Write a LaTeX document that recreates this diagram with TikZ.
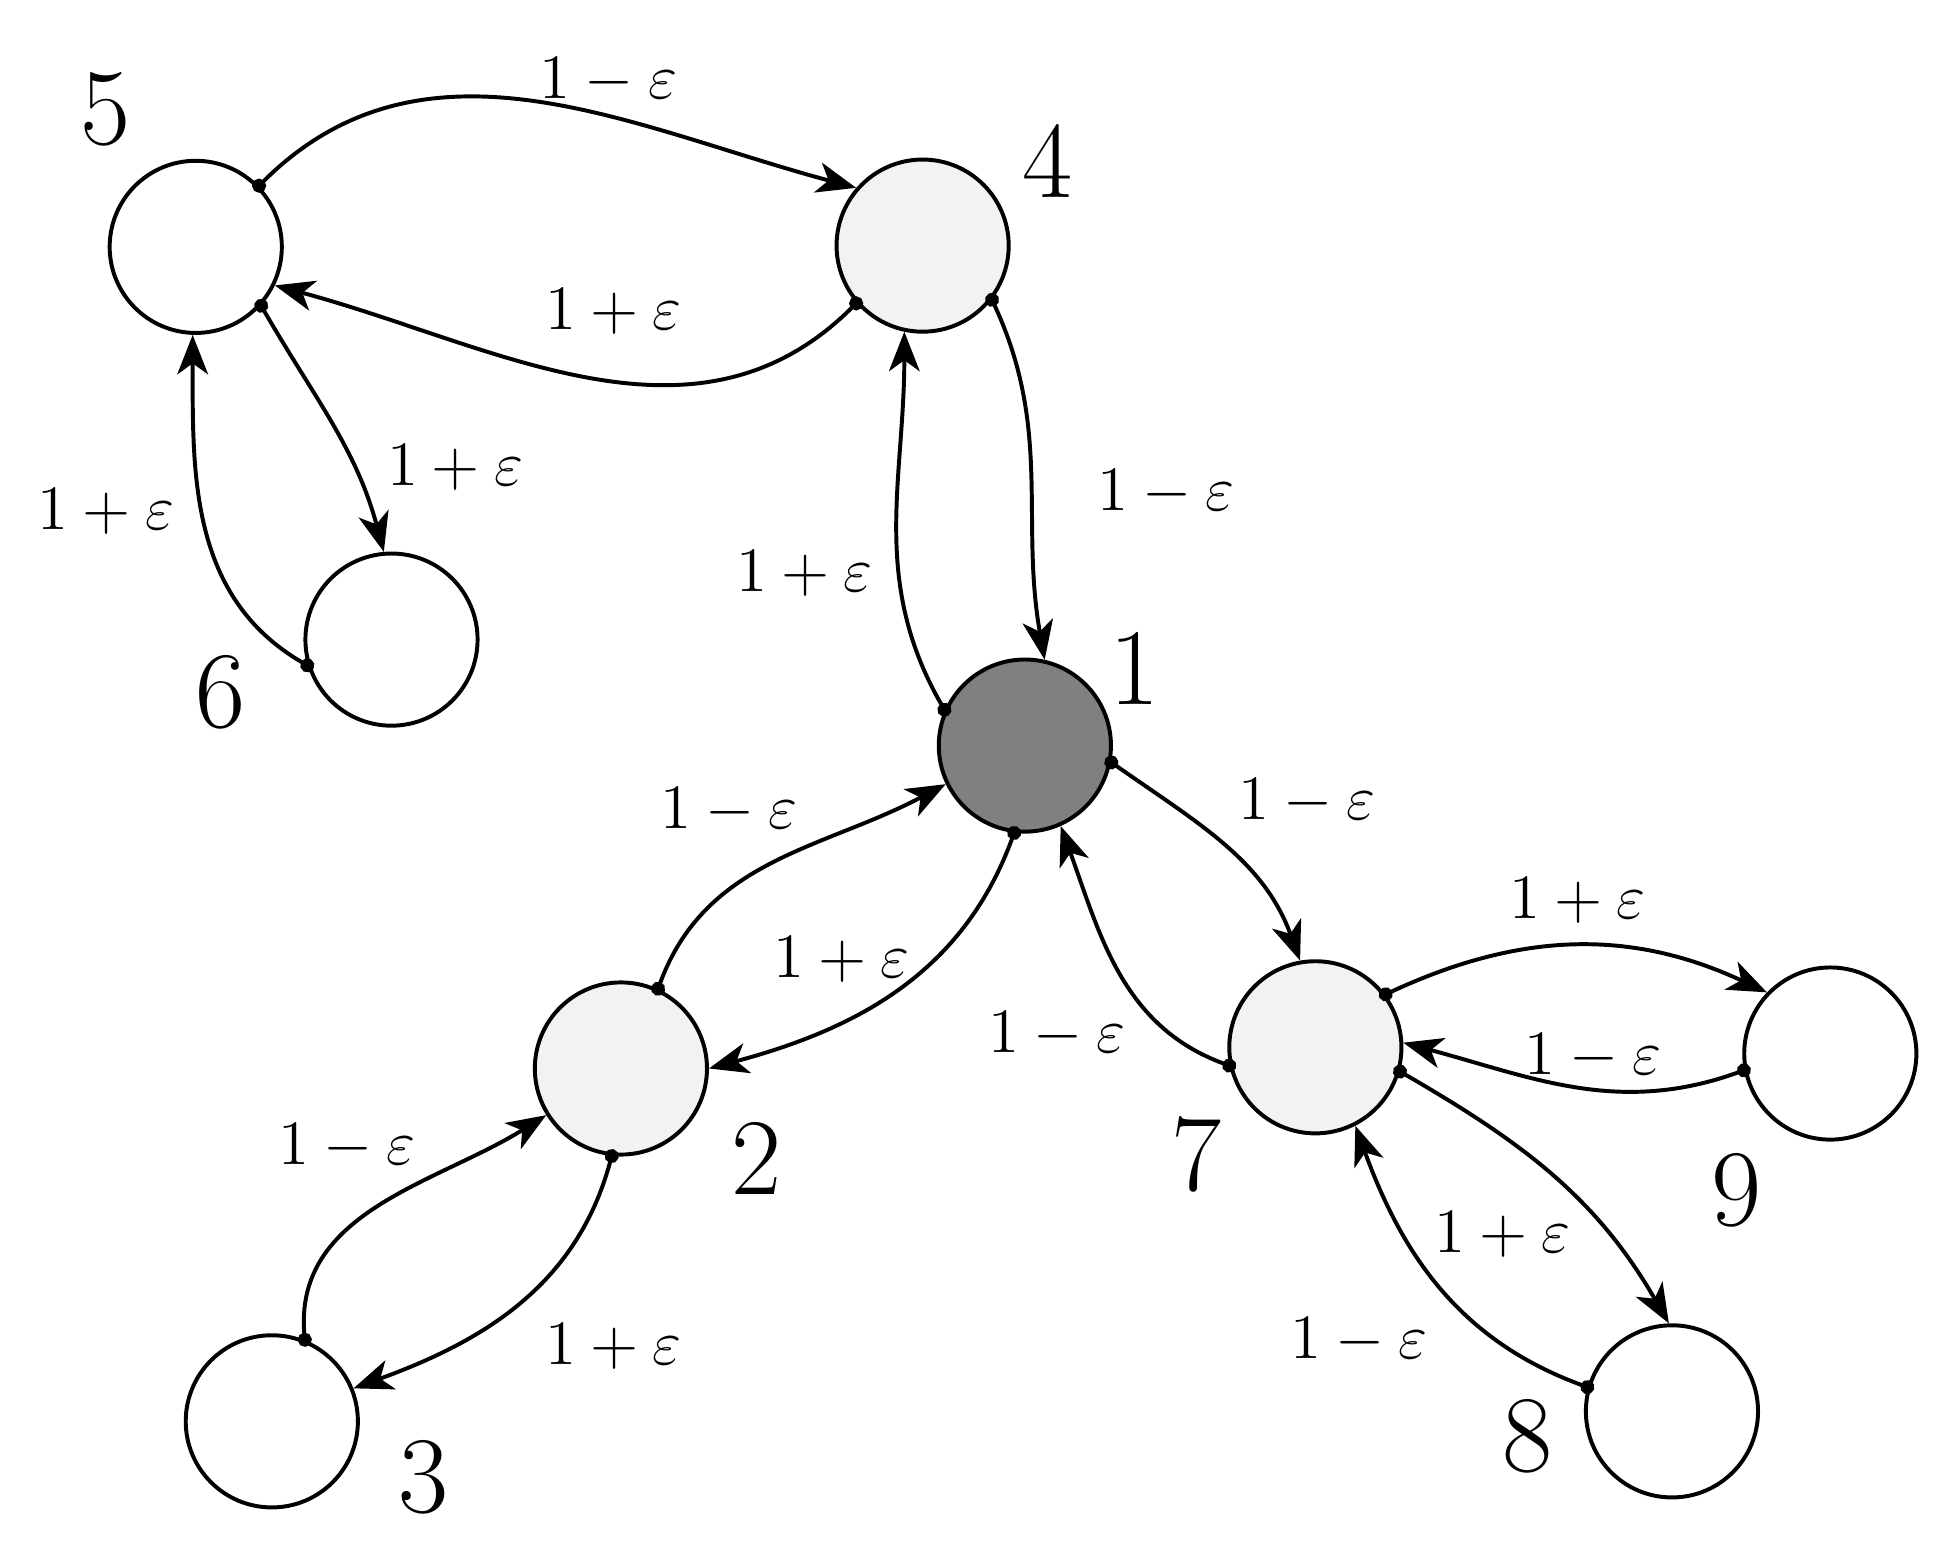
\documentclass[tikz,border=0pt]{standalone}
\usetikzlibrary{arrows.meta}
\begin{document}
\begin{tikzpicture}[x=0.01cm,y=-0.01cm,
  st/.style={circle,draw,line width=0.9pt,minimum size=1.38cm,inner sep=0pt},
  big/.style={font=\fontsize{26}{30}\selectfont},
  lab/.style={font=\fontsize{15}{18}\selectfont},
  ar/.style={line width=0.9pt,{Circle[length=3.2pt]}-{Stealth[length=9pt,width=7pt,inset=2.5pt]},shorten <=-1.6pt}]
\useasboundingbox (0,0) rectangle (1560,1240);
\node[st,fill=black!50] (n1) at (822,598) {};
\node[st,fill=black!5] (n2) at (498,857) {};
\node[st] (n3) at (218,1140) {};
\node[st,fill=black!5] (n4) at (740,197) {};
\node[st] (n5) at (157,198) {};
\node[st] (n6) at (314,513) {};
\node[st,fill=black!5] (n7) at (1055,840) {};
\node[st] (n8) at (1341,1132) {};
\node[st] (n9) at (1468,845) {};
\node[big] (l5) at (85,88) {$5$};
\node[big] (l4) at (840,130) {$4$};
\node[big] (l1) at (910,537) {$1$};
\node[big] (l6) at (177,555) {$6$};
\node[big] (l2) at (607,930) {$2$};
\node[big] (l7) at (960,927) {$7$};
\node[big] (l3) at (340,1185) {$3$};
\node[big] (l8) at (1225,1152) {$8$};
\node[big] (l9) at (1393,955) {$9$};
\draw[ar] (n5.44) to[out=45,in=165] (n4.139);
\draw[ar] (n4.221) to[out=225,in=-15] (n5.-26);
\draw[ar] (n5.-42) to[out=-60,in=105] (n6.95);
\draw[ar] (n6.197) to[out=150,in=-90] (n5.268);
\draw[ar] (n4.-38) to[out=-65,in=100] (n1.77);
\draw[ar] (n1.156) to[out=120,in=-90] (n4.258);
\draw[ar] (n2.65) to[out=70,in=208] (n1.206);
\draw[ar] (n1.263) to[out=-110,in=15] (n2.0);
\draw[ar] (n1.-11) to[out=-35,in=110] (n7.100);
\draw[ar] (n7.192) to[out=160,in=-70] (n1.-66);
\draw[ar] (n7.37) to[out=25,in=155] (n9.136);
\draw[ar] (n9.191) to[out=200,in=-15] (n7.3);
\draw[ar] (n7.-16) to[out=-30,in=120] (n8.92);
\draw[ar] (n8.164) to[out=160,in=-70] (n7.-63);
\draw[ar] (n2.264) to[out=-105,in=20] (n3.22);
\draw[ar] (n3.68) to[out=95,in=212] (n2.212);
\node[lab] (e1) at (488,65) {$1-\varepsilon$};
\node[lab] (e2) at (492,250) {$1+\varepsilon$};
\node[lab] (e3) at (365,375) {$1+\varepsilon$};
\node[lab] (e4) at (85,410) {$1+\varepsilon$};
\node[lab] (e5) at (935,395) {$1-\varepsilon$};
\node[lab] (e6) at (645,460) {$1+\varepsilon$};
\node[lab] (e7) at (585,650) {$1-\varepsilon$};
\node[lab] (e8) at (675,770) {$1+\varepsilon$};
\node[lab] (e9) at (1048,643) {$1-\varepsilon$};
\node[lab] (e10) at (848,830) {$1-\varepsilon$};
\node[lab] (e11) at (1265,722) {$1+\varepsilon$};
\node[lab] (e12) at (1278,848) {$1-\varepsilon$};
\node[lab] (e13) at (1205,990) {$1+\varepsilon$};
\node[lab] (e14) at (1090,1075) {$1-\varepsilon$};
\node[lab] (e15) at (492,1080) {$1+\varepsilon$};
\node[lab] (e16) at (278,920) {$1-\varepsilon$};
\end{tikzpicture}
\end{document}
